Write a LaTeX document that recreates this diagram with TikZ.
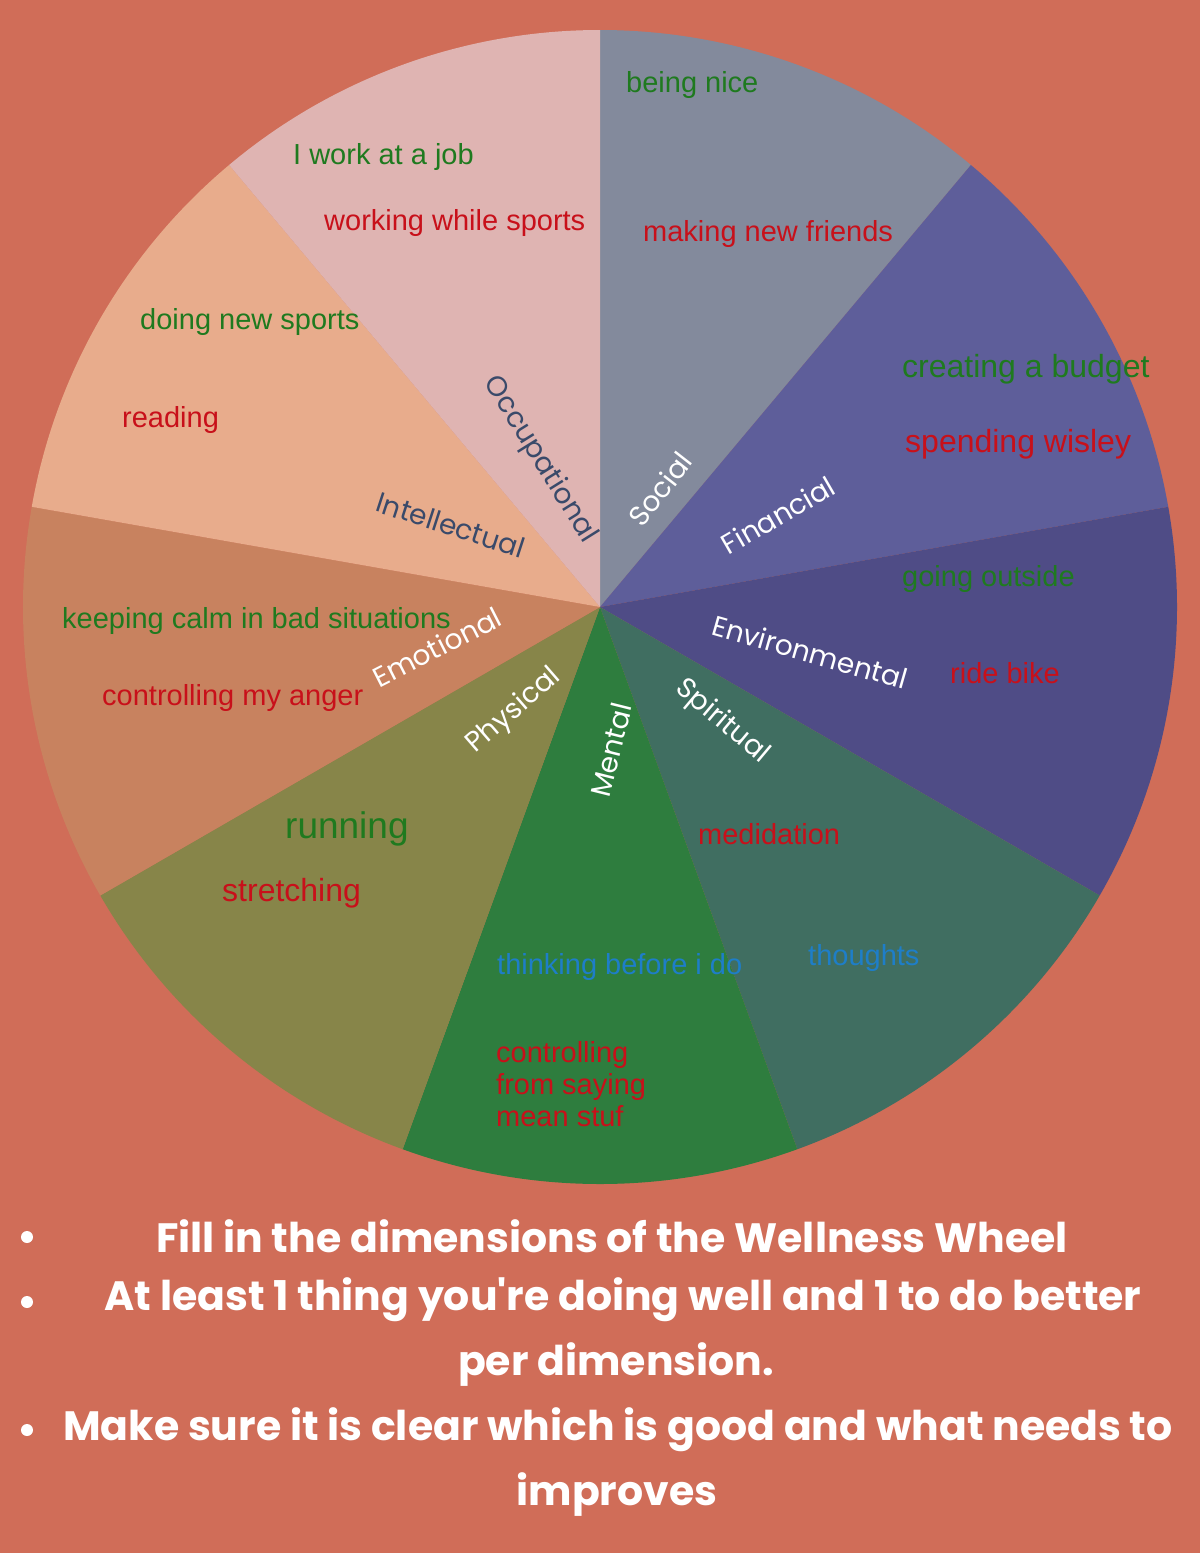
\documentclass[tikz,border=0pt]{standalone}
\usepackage{fontspec}
\setmainfont{Liberation Sans}
\newfontfamily\dimfont{Poppins}
\definecolor{bg}{HTML}{D06D58}
\definecolor{cSoc}{HTML}{838A9C}
\definecolor{cFin}{HTML}{5E5E9A}
\definecolor{cEnv}{HTML}{4F4C86}
\definecolor{cSpi}{HTML}{406E61}
\definecolor{cMen}{HTML}{2E7D3E}
\definecolor{cPhy}{HTML}{878549}
\definecolor{cEmo}{HTML}{C8825F}
\definecolor{cInt}{HTML}{E8AC8C}
\definecolor{cOcc}{HTML}{DFB4B2}
\definecolor{good}{HTML}{1F7A1F}
\definecolor{bad}{HTML}{C8101A}
\definecolor{blu}{HTML}{1E7EC8}
\definecolor{dlab}{HTML}{3A4A6A}
\tikzset{
 item/.style={anchor=west,inner sep=0pt,font=\fontsize{29}{31}\selectfont},
 g/.style={item,text=good}, r/.style={item,text=bad}, b/.style={item,text=blu},
 dim/.style={inner sep=0pt,font=\dimfont\fontsize{28}{30}\selectfont,text=white},
 bl/.style={inner sep=0pt,font=\dimfont\bfseries\fontsize{41}{46}\selectfont,text=white}
}
\begin{document}
\begin{tikzpicture}[x=1pt,y=-1pt]
\fill[bg] (0,0) rectangle (1200,1553);
\useasboundingbox (0,0) rectangle (1200,1553);
\coordinate (c) at (600,607);
\foreach \a/\col in {90/cSoc,50/cFin,10/cEnv,-30/cSpi,-70/cMen,-110/cPhy,-150/cEmo,170/cInt,130/cOcc}{
 \fill[\col] (c) -- ++(\a:577 and -577) arc[start angle=-\a,end angle=-\a+40,radius=577] -- cycle;
}
% dimension labels
\node[dim,rotate=52] (soc) at (660,489) {Social};
\node[dim,rotate=30] (fin) at (778,515) {Financial};
\node[dim,rotate=-16] (env) at (810,652) {Environmental};
\node[dim,rotate=-40] (spi) at (722,722) {Spiritual};
\node[dim,rotate=76] (men) at (611,750) {Mental};
\node[dim,rotate=41] (phy) at (514,711) {Physical};
\node[dim,rotate=27] (emo) at (437,647) {Emotional};
\node[dim,rotate=-18,text=dlab] (int) at (451,525) {Intellectual};
\node[dim,rotate=-58,text=dlab] (occ) at (540,460) {Occupational};
% items
\node[g] (s1) at (626,85) {being nice};
\node[r] (s2) at (643,234) {making new friends};
\node[g,font=\fontsize{32}{34}\selectfont] (f1) at (902,369) {creating a budget};
\node[r,font=\fontsize{32}{34}\selectfont] (f2) at (905,444) {spending wisley};
\node[g] (e1) at (902,579) {going outside};
\node[r] (e2) at (950,673) {ride bike};
\node[r] (sp1) at (698,834) {medidation};
\node[b] (sp2) at (808,958) {thoughts};
\node[b] (m1) at (497,967) {thinking before i do};
\node[r,align=left,font=\fontsize{29}{32}\selectfont] (m2) at (496,1084) {controlling\\from saying\\mean stuf};
\node[g,font=\fontsize{37}{39}\selectfont] (p1) at (285,829) {running};
\node[r,font=\fontsize{32}{34}\selectfont] (p2) at (222,893) {stretching};
\node[g] (em1) at (62,621) {keeping calm in bad situations};
\node[r] (em2) at (102,698) {controlling my anger};
\node[g] (i1) at (140,322) {doing new sports};
\node[r] (i2) at (122,420) {reading};
\node[g] (o1) at (293,157) {I work at a job};
\node[r] (o2) at (324,223) {working while sports};
% bottom text
\foreach \y in {1237,1302,1430} \fill[white] (27,\y) circle (6);
\node[bl] (t1) at (612,1236) {Fill in the dimensions of the Wellness Wheel};
\node[bl] (t2) at (623,1300) {At least 1 thing you're doing well and 1 to do better};
\node[bl] (t3) at (616,1365) {per dimension.};
\node[bl] (t4) at (618,1430) {Make sure it is clear which is good and what needs to};
\node[bl] (t5) at (617,1495) {improves};
\end{tikzpicture}
\end{document}
